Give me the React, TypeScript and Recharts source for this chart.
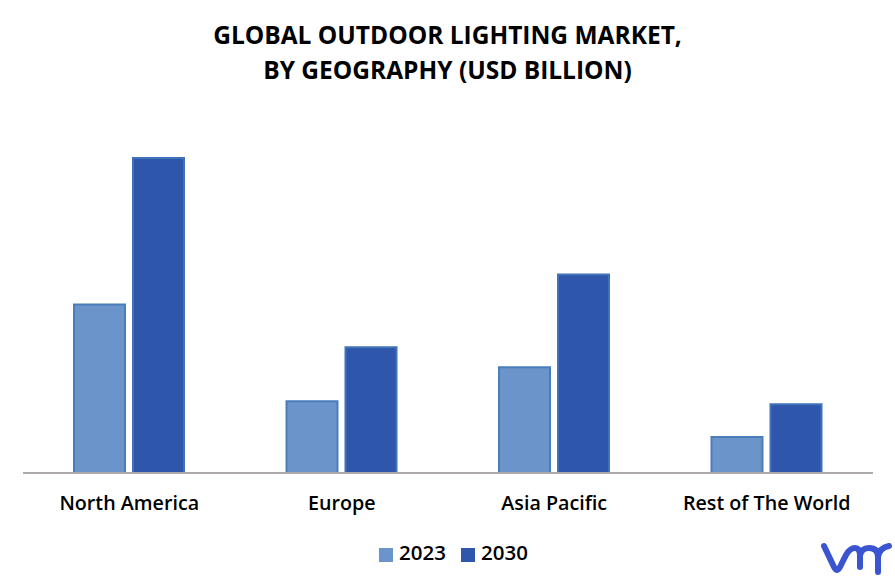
import { BarChart, Bar, XAxis, YAxis, Legend } from 'recharts'

const REGIONS = ['North America', 'Europe', 'Asia Pacific', 'Rest of The World']
const VALUES_2023 = [16.9, 7.2, 10.6, 3.6]
const VALUES_2030 = [31.6, 12.6, 19.9, 6.9]

const FONT = '"Open Sans", sans-serif'

const data = REGIONS.map((region, i) => ({
  region,
  y2023: VALUES_2023[i],
  y2030: VALUES_2030[i],
}))

function Logo() {
  return (
    <svg
      width={72}
      height={36}
      viewBox='0 0 72 36'
      style={{ position: 'absolute', left: 820, top: 542 }}
    >
      <path
        d='M4 4 L14 25 Q17 31 20 25 L26 13 Q30 6 35 6 Q40 6 40 14 L40 25 M40 14 Q41 6 49 6 Q58 6 58 15 L58 30 M58 15 Q59 6 69 4'
        fill='none'
        stroke='#3b55d0'
        strokeWidth={6}
        strokeLinecap='round'
      />
    </svg>
  )
}

export default function App() {
  return (
    <div
      style={{
        position: 'absolute',
        left: 0,
        top: 0,
        width: 895,
        height: 587,
        background: '#fff',
        fontFamily: FONT,
      }}
    >
      <div
        style={{
          position: 'absolute',
          top: 17,
          left: 0,
          width: 895,
          textAlign: 'center',
          fontSize: 24.5,
          lineHeight: '35px',
          fontWeight: 700,
          color: '#000',
        }}
      >
        GLOBAL OUTDOOR LIGHTING MARKET,
        <br />
        BY GEOGRAPHY (USD BILLION)
      </div>
      <BarChart
        width={895}
        height={587}
        data={data}
        margin={{ top: 124, right: 22, bottom: 56, left: 23 }}
        barSize={51}
        barGap={8}
        style={{ position: 'absolute', left: 0, top: 0 }}
      >
        <XAxis
          dataKey='region'
          interval={0}
          tickLine={false}
          axisLine={{ stroke: '#aeaaaa', strokeWidth: 2 }}
          tick={{ fontSize: 19.7, fontWeight: 600, fill: '#000', fontFamily: FONT }}
          tickMargin={17}
        />
        <YAxis hide domain={[0, 35]} />
        <Bar
          dataKey='y2023'
          name='2023'
          fill='#6a94ca'
          stroke='#4a7ebb'
          strokeWidth={2}
          isAnimationActive={false}
        />
        <Bar
          dataKey='y2030'
          name='2030'
          fill='#2e57ac'
          stroke='#3f72b8'
          strokeWidth={2}
          isAnimationActive={false}
        />
        <Legend
          iconType='square'
          iconSize={14}
          verticalAlign='bottom'
          wrapperStyle={{ fontSize: 20.5, fontWeight: 600, bottom: 21, left: 36 }}
          formatter={(value) => (
            <span style={{ color: '#000', marginLeft: 2, marginRight: 5 }}>{value}</span>
          )}
        />
      </BarChart>
      <Logo />
    </div>
  )
}
